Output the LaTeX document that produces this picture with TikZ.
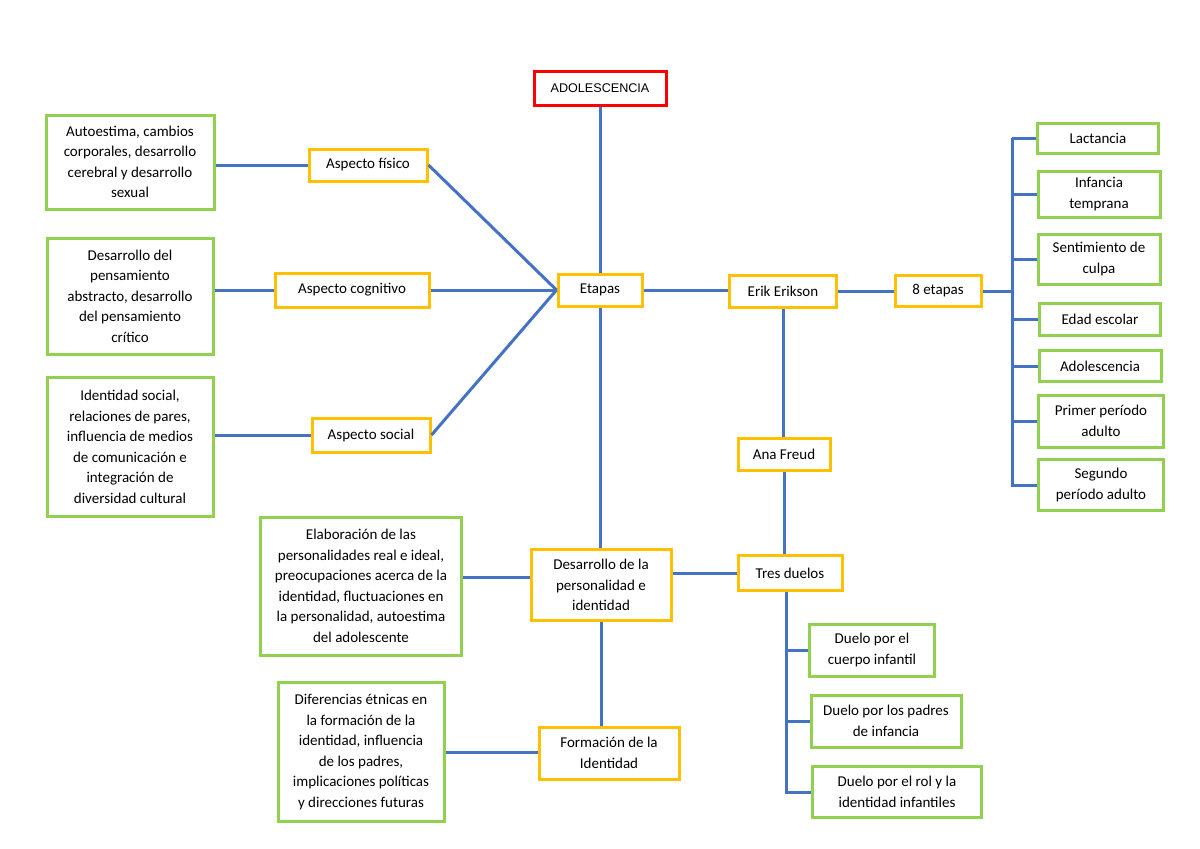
\documentclass[tikz,border=0pt]{standalone}
\usepackage{fontspec}
\setmainfont{Carlito}
\newfontfamily\arialfont{Liberation Sans}
\definecolor{linkblue}{RGB}{68,114,196}
\definecolor{boxorange}{RGB}{255,192,0}
\definecolor{boxgreen}{RGB}{146,208,80}
\definecolor{boxred}{RGB}{255,0,0}

\begin{document}
\begin{tikzpicture}[x=1pt, y=-1pt,
		box/.style={draw, line width=3pt, fill=white, inner sep=0pt, align=center,
			font=\fontsize{15}{20.5}\selectfont},
		redbox/.style={box, draw=boxred, font=\arialfont\fontsize{12.6}{14}\selectfont},
		orangebox/.style={box, draw=boxorange},
		greenbox/.style={box, draw=boxgreen},
		link/.style={draw=linkblue, line width=3pt}]
		\useasboundingbox (0,0) rectangle (1200,849);

		% main title and centre
		\node [redbox, minimum width=132, minimum height=34] (adol) at (600,88) {ADOLESCENCIA};
		\node [orangebox, minimum width=84, minimum height=32] (etapas) at (600,290) {Etapas};

		% the three aspects
		\node [orangebox, minimum width=118, minimum height=32] (fisico) at (368,165) {Aspecto físico};
		\node [orangebox, minimum width=154, minimum height=34] (cogn) at (352,290) {Aspecto cognitivo};
		\node [orangebox, minimum width=118, minimum height=34] (social) at (371,435) {Aspecto social};

		\node [greenbox, minimum width=168, minimum height=94] (auto) at (130,162)
			{Autoestima, cambios\\corporales, desarrollo\\cerebral y desarrollo\\sexual};
		\node [greenbox, minimum width=166, minimum height=116] (pens) at (130,296)
			{Desarrollo del\\pensamiento\\abstracto, desarrollo\\del pensamiento\\crítico};
		\node [greenbox, minimum width=166, minimum height=139] (ident) at (130,447)
			{Identidad social,\\relaciones de pares,\\influencia de medios\\de comunicación e\\integración de\\diversidad cultural};

		% personality and identity
		\node [orangebox, minimum width=140, minimum height=71] (desper) at (601,585)
			{Desarrollo de la\\personalidad e\\identidad};
		\node [orangebox, minimum width=140, minimum height=52] (formac) at (609,753)
			{Formación de la\\Identidad};
		\node [greenbox, minimum width=201, minimum height=138] (elab) at (361,586)
			{Elaboración de las\\personalidades real e ideal,\\preocupaciones acerca de la\\identidad, fluctuaciones en\\la personalidad, autoestima\\del adolescente};
		\node [greenbox, minimum width=166, minimum height=139] (difer) at (361,752)
			{Diferencias étnicas en\\la formación de la\\identidad, influencia\\de los padres,\\implicaciones políticas\\y direcciones futuras};

		% Erikson and Freud
		\node [orangebox, minimum width=107, minimum height=32] (erik) at (783,291) {Erik Erikson};
		\node [orangebox, minimum width=86, minimum height=31] (ocho) at (938,291) {8 etapas};
		\node [orangebox, minimum width=92, minimum height=32] (ana) at (784,454) {Ana Freud};
		\node [orangebox, minimum width=104, minimum height=35] (tres) at (790,573) {Tres duelos};

		\node [greenbox, minimum width=125, minimum height=52] (cuerpo) at (872,650) {Duelo por el\\cuerpo infantil};
		\node [greenbox, minimum width=150, minimum height=52] (padres) at (886,721) {Duelo por los padres\\de infancia};
		\node [greenbox, minimum width=169, minimum height=51] (rol) at (897,792) {Duelo por el rol y la\\identidad infantiles};

		% the eight stages
		\node [greenbox, minimum width=121, minimum height=30] (lact) at (1098,138) {Lactancia};
		\node [greenbox, minimum width=122, minimum height=46] (infan) at (1099,194) {Infancia\\temprana};
		\node [greenbox, minimum width=122, minimum height=50] (senti) at (1099,259) {Sentimiento de\\culpa};
		\node [greenbox, minimum width=121, minimum height=32] (edad) at (1100,319) {Edad escolar};
		\node [greenbox, minimum width=122, minimum height=31] (adole) at (1100,366) {Adolescencia};
		\node [greenbox, minimum width=125, minimum height=52] (primer) at (1101,421) {Primer período\\adulto};
		\node [greenbox, minimum width=125, minimum height=51] (segundo) at (1101,485) {Segundo\\período adulto};

		\coordinate (spine) at (1012,138);
		\coordinate (dspine) at (786,600);

		% draw connectors
		\draw [link] (adol) -- (etapas);
		\draw [link] (fisico.east) -- (etapas.west);
		\draw [link] (cogn.east) -- (etapas.west);
		\draw [link] (social.east) -- (etapas.west);
		\draw [link] (fisico.west) -- (fisico.west -| auto.east);
		\draw [link] (cogn.west) -- (cogn.west -| pens.east);
		\draw [link] (social.west) -- (social.west -| ident.east);

		\draw [link] (etapas.south) -- (etapas.south |- desper.north);
		\draw [link] (desper.south) -- (desper.south |- formac.north);
		\draw [link] ([yshift=9pt]elab.east) -- ([yshift=9pt]elab.east -| desper.west);
		\draw [link] (difer.east) -- (difer.east -| formac.west);
		\draw [link] (desper.east |- tres.west) -- (tres.west);

		\draw [link] (etapas.east) -- (etapas.east -| erik.west);
		\draw [link] (erik.east) -- (ocho.west);
		\draw [link] (erik.south) -- (erik.south |- ana.north);
		\draw [link] (ana.south) -- (ana.south |- tres.north);

		% duelos
		\draw [link] (tres.south -| dspine) |- (rol.west);
		\draw [link] (cuerpo.west) -- (cuerpo.west -| dspine);
		\draw [link] (padres.west) -- (padres.west -| dspine);

		% stages
		\draw [link] (spine) |- (segundo.west);
		\draw [link] (ocho.east) -- (ocho.east -| spine);
		\foreach \s in {lact,infan,senti,edad,adole,primer}
			\draw [link] (\s.west) -- (\s.west -| spine);
\end{tikzpicture}
\end{document}
